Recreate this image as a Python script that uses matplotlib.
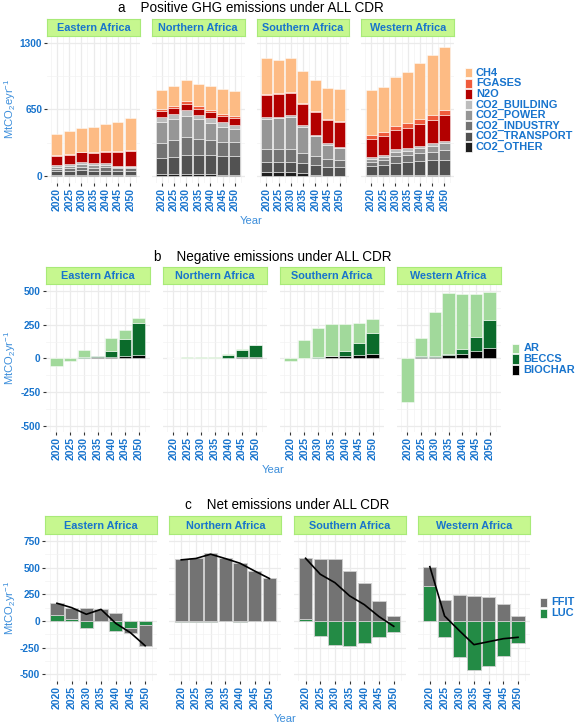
import matplotlib
matplotlib.use("Agg")
import matplotlib.pyplot as plt
from matplotlib.patches import Rectangle
import numpy as np

plt.rcParams['font.family'] = ['Liberation Sans', 'DejaVu Sans']
plt.rcParams['mathtext.fontset'] = 'custom'
plt.rcParams['mathtext.rm'] = 'Liberation Sans'
plt.rcParams['mathtext.default'] = 'regular'

# ---------------- data ----------------
years = [2020, 2025, 2030, 2035, 2040, 2045, 2050]
regions = ["Eastern Africa", "Northern Africa", "Southern Africa", "Western Africa"]

# Panel a: positive GHG emissions (MtCO2e/yr), per region [East, North, South, West]
ghg_levels = ["CH4", "FGASES", "N2O", "CO2_BUILDING", "CO2_POWER",
              "CO2_INDUSTRY", "CO2_TRANSPORT", "CO2_OTHER"]
ghg_colors = ["#FDBB84", "#EF5B3C", "#B30000", "#BDBDBD", "#969696",
              "#737373", "#525252", "#1E1E1E"]
CH4 = [[205, 221, 234, 243, 260, 286, 312],
       [182, 195, 202, 215, 231, 241, 247],
       [347, 319, 332, 309, 299, 305, 312],
       [435, 439, 481, 498, 542, 578, 614]]
FGASES = [[5, 6, 6, 6, 7, 7, 8],
          [22, 19, 29, 23, 19, 19, 20],
          [12, 12, 12, 12, 12, 10, 10],
          [36, 42, 39, 48, 49, 52, 52]]
N2O = [[89, 91, 98, 102, 114, 137, 145],
       [56, 56, 59, 61, 62, 59, 68],
       [216, 221, 218, 209, 222, 227, 240],
       [176, 185, 188, 195, 215, 228, 251]]
CO2_BUILDING = [[18, 18, 18, 16, 15, 12, 12],
                [48, 45, 55, 42, 45, 45, 39],
                [15, 15, 15, 15, 15, 15, 15],
                [20, 20, 22, 22, 22, 22, 22]]
CO2_POWER = [[18, 22, 28, 24, 24, 14, 12],
             [205, 208, 211, 192, 166, 146, 123],
             [290, 299, 312, 251, 193, 138, 115],
             [28, 30, 42, 44, 50, 58, 70]]
CO2_INDUSTRY = [[26, 28, 33, 32, 32, 28, 28],
                [146, 162, 172, 156, 150, 137, 137],
                [127, 125, 125, 104, 88, 75, 65],
                [42, 48, 68, 70, 78, 86, 96]]
CO2_TRANSPORT = [[38, 40, 44, 42, 43, 38, 40],
                 [156, 166, 182, 185, 186, 188, 190],
                 [98, 100, 105, 98, 97, 86, 86],
                 [88, 96, 116, 122, 130, 138, 142]]
CO2_OTHER = [[9, 9, 10, 9, 9, 8, 8],
             [23, 23, 23, 20, 15, 10, 8],
             [42, 40, 35, 26, 10, 5, 5],
             [10, 11, 12, 12, 12, 14, 14]]
ghg_series = [CH4, FGASES, N2O, CO2_BUILDING, CO2_POWER, CO2_INDUSTRY, CO2_TRANSPORT, CO2_OTHER]

# Panel b: negative emissions (MtCO2/yr)
cdr_levels = ["AR", "BECCS", "BIOCHAR"]
cdr_colors = ["#A1D99B", "#0B6B2B", "#000000"]
AR = [[-55, -17, 52, 2, 94, 67, 37],
      [4, 8, 8, 2, 3, 2, 2],
      [-15, 136, 221, 236, 201, 149, 99],
      [-324, 139, 330, 460, 415, 323, 203]]
BECCS = [[0, 2, 5, 5, 45, 130, 241],
         [1, 3, 3, 4, 22, 57, 92],
         [0, 1, 2, 5, 35, 89, 159],
         [0, 5, 4, 5, 30, 102, 209]]
BIOCHAR = [[0, 1, 5, 10, 10, 17, 25],
           [0, 1, 1, 2, 5, 8, 10],
           [0, 2, 6, 15, 20, 28, 33],
           [0, 10, 12, 25, 37, 55, 80]]
cdr_series = [AR, BECCS, BIOCHAR]

# Panel c: net emissions (MtCO2/yr)
net_levels = ["FFIT", "LUC"]
net_colors = ["#737373", "#238B45"]
FFIT = [[110, 110, 125, 112, 72, -47, -195],
        [578, 594, 634, 588, 547, 472, 400],
        [569, 578, 584, 472, 359, 191, 50],
        [181, 197, 244, 237, 228, 159, 50]]
LUC = [[56, 15, -62, -3, -94, -63, -37],
       [-5, -8, -8, -3, -6, -4, -2],
       [19, -140, -225, -237, -206, -150, -100],
       [328, -150, -334, -459, -422, -325, -203]]
net_series = [FFIT, LUC]

# ---------------- style ----------------
W, H = 575, 724
BLUE = "#1874CD"
BLUE_L = "#3C8EDB"
STRIP_FC = "#C6F78F"
STRIP_EC = "#A8EA78"

fig = plt.figure(figsize=(W / 100, H / 100), dpi=100)
renderer = fig.canvas.get_renderer()


def fit_size(sample, target_px, weight='normal', base=10.0):
    t = fig.text(0, 0, sample, fontsize=base, fontweight=weight)
    w = t.get_window_extent(renderer=renderer).width
    t.remove()
    return base * target_px / w


TICK_FS = fit_size("1300", 22.5, 'bold')
XTICK_FS = fit_size("2020", 23.0, 'bold')
STRIP_FS = fit_size("Eastern Africa", 73.3, 'bold')
LEG_FS = fit_size("CO2_TRANSPORT", 96.5, 'bold')
TITLE_FS = fit_size("Positive GHG emissions under ALL CDR", 244.0)
LAB_FS = fit_size("Year", 23.0)


def ax_at(left, top, width, height):
    return fig.add_axes([left / W, 1 - (top + height) / H, width / W, height / H])


def stacked(ax, series, region_idx, colors, edge, lw):
    pos = np.zeros(len(years))
    neg = np.zeros(len(years))
    for s, col in reversed(list(zip(series, colors))):
        v = np.array(s[region_idx], float)
        bottoms = np.where(v >= 0, pos, neg)
        ax.bar(years, v, width=4.5, bottom=bottoms, color=col,
               edgecolor=edge, linewidth=lw, zorder=3)
        pos = pos + np.where(v >= 0, v, 0)
        neg = neg + np.where(v < 0, v, 0)


def style_axis(ax, ylim, yticks, yminor, first):
    ax.set_xlim(2016.0, 2054.0)
    ax.set_ylim(*ylim)
    ax.set_xticks(years)
    ax.set_xticks([2017.5, 2022.5, 2027.5, 2032.5, 2037.5, 2042.5, 2047.5, 2052.5], minor=True)
    ax.set_yticks(yticks)
    ax.set_yticks(yminor, minor=True)
    ax.grid(True, which='major', color="#EBEBEB", lw=0.9, zorder=0)
    ax.grid(True, which='minor', color="#F3F3F3", lw=0.5, zorder=0)
    ax.set_axisbelow(True)
    for sp in ax.spines.values():
        sp.set_visible(False)
    ax.set_xticklabels([str(y) for y in years], rotation=90, color=BLUE,
                       fontsize=XTICK_FS, fontweight='bold')
    ax.tick_params(axis='x', which='major', length=2.0, width=0.8, color="#333333", pad=1.5)
    ax.tick_params(which='minor', length=0)
    if first:
        ax.set_yticklabels([str(t) for t in yticks], color=BLUE,
                           fontsize=TICK_FS, fontweight='bold')
        ax.tick_params(axis='y', which='major', length=2.0, width=0.8, color="#333333", pad=1.5)
    else:
        ax.tick_params(axis='y', which='major', length=0, labelleft=False)


def strip(left, top, width, height, label):
    sax = ax_at(left, top, width, height)
    sax.set_facecolor(STRIP_FC)
    sax.set_xticks([])
    sax.set_yticks([])
    for sp in sax.spines.values():
        sp.set_color(STRIP_EC)
        sp.set_linewidth(0.8)
    sax.text(0.5, 0.47, label, ha='center', va='center', color=BLUE,
             fontsize=STRIP_FS, fontweight='bold', transform=sax.transAxes)


def legend(x_key, y_first, dy, labels, colors, kw=7, kh=9.5, edge='white'):
    for i, (lab, col) in enumerate(zip(labels, colors)):
        yc = y_first + i * dy
        fig.patches.append(Rectangle((x_key / W, 1 - (yc + kh / 2) / H), kw / W, kh / H,
                                     transform=fig.transFigure, facecolor=col,
                                     edgecolor=edge, linewidth=0.5))
        fig.text((x_key + kw + 4.5) / W, 1 - yc / H, lab, ha='left', va='center',
                 color=BLUE, fontsize=LEG_FS, fontweight='bold')


def panel(lefts, width, top, height, series, colors, levels, ylim, yticks, yminor,
          strip_h, title, title_xc, title_y, year_xc, year_y, ylab, ylab_y,
          edge, lw, line=False):
    for r, reg in enumerate(regions):
        ax = ax_at(lefts[r], top, width, height)
        stacked(ax, series, r, colors, edge, lw)
        if line:
            net = np.array(series[0][r], float) + np.array(series[1][r], float)
            ax.plot(years, net, color='black', lw=1.2, zorder=4)
        style_axis(ax, ylim, yticks, yminor, r == 0)
        strip(lefts[r], top - strip_h, width, strip_h, reg)
    fig.text(title_xc / W, 1 - title_y / H, title, ha='center', va='center',
             fontsize=TITLE_FS, color='black')
    fig.text(year_xc / W, 1 - year_y / H, "Year", ha='center', va='center',
             fontsize=LAB_FS, color=BLUE_L)
    fig.text(10 / W, 1 - ylab_y / H, ylab, ha='center', va='center', rotation=90,
             fontsize=LAB_FS, color=BLUE_L)


# Panel a
panel([47.2 + i * 104.7 for i in range(4)], 92.7, 36.0, 146.7, ghg_series, ghg_colors,
      ghg_levels, (-65, 1365), [0, 650, 1300], [325, 975], 17.5,
      "a    Positive GHG emissions under ALL CDR", 251, 7.5, 251, 221,
      r"MtCO$_2$eyr$^{-1}$", 109, (1, 1, 1, 0.55), 0.6)
legend(464.5, 72.7, 10.6, ghg_levels, ghg_colors)

# Panel b
panel([45.5 + i * 117.0 for i in range(4)], 104.0, 284.5, 148.0, cdr_series, cdr_colors,
      cdr_levels, (-550, 550), [-500, -250, 0, 250, 500], [-375, -125, 125, 375], 17.5,
      "b    Negative emissions under ALL CDR", 273, 256.7, 273, 470,
      r"MtCO$_2$yr$^{-1}$", 358, (1, 1, 1, 0.55), 0.6)
legend(512, 348.3, 10.8, cdr_levels, cdr_colors)

# Panel c
panel([45.2 + i * 124.3 for i in range(4)], 111.7, 534.3, 146.7, net_series, net_colors,
      net_levels, (-562.5, 812.5), [-500, -250, 0, 250, 500, 750],
      [-375, -125, 125, 375, 625], 18,
      "c    Net emissions under ALL CDR", 287, 505, 285, 719.3,
      r"MtCO$_2$yr$^{-1}$", 608, "#D0D0D0", 0.6, line=True)
legend(540, 602.3, 11.0, net_levels, net_colors)

fig.savefig("out.png", dpi=100, facecolor='white')
